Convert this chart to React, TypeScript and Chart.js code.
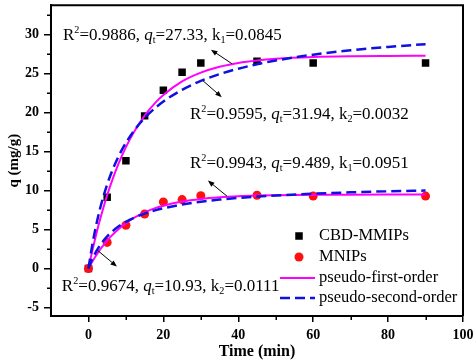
import { useEffect, useRef } from 'react';
import { Chart, registerables } from 'chart.js';
Chart.register(...registerables);

// ---- data ----
const expTimes = [0, 5, 10, 15, 20, 25, 30, 45, 60, 90];
const cbdValues = [0, 9.15, 13.85, 19.6, 22.9, 25.2, 26.4, 26.6, 26.4, 26.4];
const mnipValues = [0, 3.35, 5.55, 7.0, 8.55, 8.85, 9.35, 9.4, 9.3, 9.3];

const curveTimes = [0, 1, 2, 3, 4, 5, 6, 8, 10, 12, 15, 18, 20, 25, 30, 35, 40, 45, 50, 60, 70, 80, 90];
const cbdFirstOrder = [0, 2.21, 4.25, 6.12, 7.84, 9.42, 10.87, 13.43, 15.59, 17.41, 19.64, 21.36, 22.29, 24.03, 25.16, 25.91, 26.4, 26.72, 26.93, 27.16, 27.26, 27.3, 27.32];
const cbdSecondOrder = [0, 2.96, 5.42, 7.5, 9.27, 10.8, 12.14, 14.37, 16.14, 17.59, 19.33, 20.69, 21.45, 22.95, 24.09, 24.96, 25.66, 26.23, 26.71, 27.46, 28.02, 28.46, 28.81];
const mnipFirstOrder = [0, 0.86, 1.64, 2.36, 3.0, 3.59, 4.13, 5.05, 5.82, 6.46, 7.21, 7.78, 8.07, 8.61, 8.94, 9.15, 9.28, 9.36, 9.41, 9.46, 9.48, 9.49, 9.49];
const mnipSecondOrder = [0, 1.18, 2.13, 2.92, 3.57, 4.13, 4.6, 5.38, 5.99, 6.48, 7.05, 7.5, 7.74, 8.22, 8.57, 8.85, 9.06, 9.24, 9.38, 9.61, 9.78, 9.91, 10.01];

const xTickValues = [0, 10, 20, 30, 40, 50, 60, 70, 80, 90, 100];
const yTickValues = [-5, -2.5, 0, 2.5, 5, 7.5, 10, 12.5, 15, 17.5, 20, 22.5, 25, 27.5, 30, 32.5];

const legendLabels = ['CBD-MMIPs', 'MNIPs', 'pseudo-first-order', 'pseudo-second-order'];

type Seg = { t: string; sup?: boolean; sub?: boolean; it?: boolean };
const fitTexts: Seg[][] = [
  [{ t: 'R' }, { t: '2', sup: true }, { t: '=0.9886, ' }, { t: 'q', it: true }, { t: 't', sub: true }, { t: '=27.33, k' }, { t: '1', sub: true }, { t: '=0.0845' }],
  [{ t: 'R' }, { t: '2', sup: true }, { t: '=0.9595, ' }, { t: 'q', it: true }, { t: 't', sub: true }, { t: '=31.94, k' }, { t: '2', sub: true }, { t: '=0.0032' }],
  [{ t: 'R' }, { t: '2', sup: true }, { t: '=0.9943, ' }, { t: 'q', it: true }, { t: 't', sub: true }, { t: '=9.489, k' }, { t: '1', sub: true }, { t: '=0.0951' }],
  [{ t: 'R' }, { t: '2', sup: true }, { t: '=0.9674, ' }, { t: 'q', it: true }, { t: 't', sub: true }, { t: '=10.93, k' }, { t: '2', sub: true }, { t: '=0.0111' }],
];
// anchors (data coordinates): text left/baseline, arrow tail, arrow head
const fitAnchors = [
  { tx: -6.8, ty: 29.3, ax: 38.3, ay: 26.3, hx: 32.7, hy: 28.1 },
  { tx: 27.1, ty: 19.2, ax: 30.6, ay: 24.1, hx: 35.6, hy: 22.0 },
  { tx: 27.1, ty: 12.9, ax: 37.0, ay: 9.28, hx: 31.9, hy: 11.3 },
  { tx: -7.1, ty: -2.9, ax: 2.5, ay: 2.3, hx: 7.6, hy: 0.25 },
];

const SERIF = '"Liberation Serif", "Times New Roman", serif';
const MAGENTA = '#ff00ff';
const BLUE = '#1010e0';
const RED = '#ff1010';

function drawRich(ctx: CanvasRenderingContext2D, segs: Seg[], x: number, y: number, size: number) {
  let cx = x;
  ctx.textBaseline = 'alphabetic';
  ctx.textAlign = 'left';
  for (const s of segs) {
    const fs = s.sup || s.sub ? size * 0.6 : size;
    ctx.font = `${s.it ? 'italic ' : ''}${fs}px ${SERIF}`;
    const dy = s.sup ? -size * 0.42 : s.sub ? size * 0.18 : 0;
    ctx.fillText(s.t, cx, y + dy);
    cx += ctx.measureText(s.t).width;
  }
}

function drawArrow(ctx: CanvasRenderingContext2D, x1: number, y1: number, x2: number, y2: number) {
  const ang = Math.atan2(y2 - y1, x2 - x1);
  const L = 6.5, W = 2.6;
  ctx.beginPath();
  ctx.moveTo(x1, y1);
  ctx.lineTo(x2 - Math.cos(ang) * L * 0.8, y2 - Math.sin(ang) * L * 0.8);
  ctx.lineWidth = 1;
  ctx.strokeStyle = '#000';
  ctx.stroke();
  ctx.beginPath();
  ctx.moveTo(x2, y2);
  ctx.lineTo(x2 - Math.cos(ang) * L - Math.sin(ang) * W, y2 - Math.sin(ang) * L + Math.cos(ang) * W);
  ctx.lineTo(x2 - Math.cos(ang) * L + Math.sin(ang) * W, y2 - Math.sin(ang) * L - Math.cos(ang) * W);
  ctx.closePath();
  ctx.fillStyle = '#000';
  ctx.fill();
}

const overlayPlugin = {
  id: 'overlay',
  afterDatasetsDraw(chart: any) {
    const ctx: CanvasRenderingContext2D = chart.ctx;
    const { chartArea } = chart;
    const xs = chart.scales.x;
    const ys = chart.scales.y;
    ctx.save();
    // frame top/right
    ctx.strokeStyle = '#000';
    ctx.lineWidth = 2;
    ctx.beginPath();
    ctx.moveTo(chartArea.left, chartArea.top);
    ctx.lineTo(chartArea.right, chartArea.top);
    ctx.lineTo(chartArea.right, chartArea.bottom);
    ctx.stroke();
    // minor ticks (shorter)
    ctx.lineWidth = 1.5;
    ctx.beginPath();
    xTickValues.filter((v) => v % 20 !== 0).forEach((v) => {
      const px = Math.round(xs.getPixelForValue(v)) + 0.25;
      ctx.moveTo(px, chartArea.bottom);
      ctx.lineTo(px, chartArea.bottom + 4);
    });
    yTickValues.filter((v) => v % 5 !== 0).forEach((v) => {
      const py = Math.round(ys.getPixelForValue(v)) + 0.25;
      ctx.moveTo(chartArea.left, py);
      ctx.lineTo(chartArea.left - 4, py);
    });
    ctx.stroke();
    // fit annotations
    ctx.fillStyle = '#000';
    fitTexts.forEach((segs, i) => {
      const a = fitAnchors[i];
      drawRich(ctx, segs, xs.getPixelForValue(a.tx), ys.getPixelForValue(a.ty), 17);
      drawArrow(ctx, xs.getPixelForValue(a.ax), ys.getPixelForValue(a.ay), xs.getPixelForValue(a.hx), ys.getPixelForValue(a.hy));
    });
    // legend
    const sx = chartArea.right - 164;
    const rows = [chartArea.bottom - 80, chartArea.bottom - 59, chartArea.bottom - 38, chartArea.bottom - 18];
    ctx.fillStyle = '#000';
    ctx.fillRect(sx - 3.75, rows[0] - 3.75, 7.5, 7.5);
    ctx.fillStyle = RED;
    ctx.beginPath();
    ctx.arc(sx, rows[1], 4.5, 0, Math.PI * 2);
    ctx.fill();
    ctx.strokeStyle = MAGENTA;
    ctx.lineWidth = 2;
    ctx.beginPath();
    ctx.moveTo(sx - 19, rows[2]);
    ctx.lineTo(sx + 16, rows[2]);
    ctx.stroke();
    ctx.strokeStyle = BLUE;
    ctx.lineWidth = 2.5;
    ctx.setLineDash([10, 5]);
    ctx.beginPath();
    ctx.moveTo(sx - 19, rows[3]);
    ctx.lineTo(sx + 16, rows[3]);
    ctx.stroke();
    ctx.setLineDash([]);
    ctx.fillStyle = '#000';
    ctx.font = `16.5px ${SERIF}`;
    ctx.textBaseline = 'middle';
    ctx.textAlign = 'left';
    legendLabels.forEach((l, i) => ctx.fillText(l, sx + 20, rows[i]));
    ctx.restore();
  },
};

export default function App() {
  const ref = useRef<HTMLCanvasElement | null>(null);
  useEffect(() => {
    if (!ref.current) return;
    const pts = (xs: number[], ys: number[]) => xs.map((x, i) => ({ x, y: ys[i] }));
    const lineDs = (label: string, data: number[], color: string, dashed: boolean) => ({
      label,
      data: pts(curveTimes, data),
      showLine: true,
      borderColor: color,
      borderWidth: dashed ? 2.5 : 2,
      borderDash: dashed ? [10, 5] : [],
      pointRadius: 0,
      cubicInterpolationMode: 'monotone',
      fill: false,
    });
    const majorColor = (step: number) => (c: any) => (c.tick && Math.abs(c.tick.value % step) < 1e-9 ? '#000' : 'rgba(0,0,0,0)');
    const chart = new Chart(ref.current, {
      type: 'scatter',
      data: {
        datasets: [
          lineDs('pseudo-second-order CBD', cbdSecondOrder, BLUE, true),
          lineDs('pseudo-second-order MNIP', mnipSecondOrder, BLUE, true),
          lineDs('pseudo-first-order CBD', cbdFirstOrder, MAGENTA, false),
          lineDs('pseudo-first-order MNIP', mnipFirstOrder, MAGENTA, false),
          {
            label: 'MNIPs',
            data: pts(expTimes, mnipValues),
            pointStyle: 'circle',
            pointRadius: 4.5,
            backgroundColor: RED,
            borderWidth: 0,
          },
          {
            label: 'CBD-MMIPs',
            data: pts(expTimes, cbdValues),
            pointStyle: 'rect',
            pointRadius: 5.3,
            backgroundColor: '#000',
            borderWidth: 0,
          },
        ] as any,
      },
      options: {
        animation: false,
        responsive: false,
        layout: { padding: { left: 0, right: 11, top: 2, bottom: 0 } },
        plugins: { legend: { display: false }, tooltip: { enabled: false } },
        scales: {
          x: {
            type: 'linear',
            min: -10,
            max: 100,
            afterFit: (s: any) => { s.height = 46; s.paddingLeft = 0; s.paddingRight = 0; },
            afterBuildTicks: (s: any) => { s.ticks = xTickValues.map((v) => ({ value: v })); },
            grid: { drawOnChartArea: false, drawTicks: true, tickLength: 6, color: majorColor(20), lineWidth: 1.5 },
            border: { color: '#000', width: 2 },
            ticks: {
              color: '#000',
              padding: 5,
              maxRotation: 0,
              autoSkip: false,
              font: { family: SERIF, size: 14, weight: 'bold' },
              callback: (v: any) => (Number(v) % 20 === 0 ? String(v) : ''),
            },
            title: { display: true, text: 'Time (min)', color: '#000', padding: { top: 0, bottom: 1 }, font: { family: SERIF, size: 16, weight: 'bold' } },
          },
          y: {
            type: 'linear',
            min: -6.1,
            max: 33.8,
            afterFit: (s: any) => { s.width = 51; s.paddingTop = 0; s.paddingBottom = 0; },
            afterBuildTicks: (s: any) => { s.ticks = yTickValues.map((v) => ({ value: v })); },
            grid: { drawOnChartArea: false, drawTicks: true, tickLength: 7, color: majorColor(5), lineWidth: 1.5 },
            border: { color: '#000', width: 2 },
            ticks: {
              color: '#000',
              padding: 5,
              autoSkip: false,
              font: { family: SERIF, size: 14, weight: 'bold' },
              callback: (v: any) => (Number(v) % 5 === 0 ? String(v) : ''),
            },
            title: { display: true, text: 'q (mg/g)', color: '#000', padding: { top: 5, bottom: 0 }, font: { family: SERIF, size: 15, weight: 'bold' } },
          },
        },
      } as any,
      plugins: [overlayPlugin],
    });
    return () => chart.destroy();
  }, []);
  return (
    <div style={{ position: 'fixed', left: 0, top: 0, width: 474, height: 362, background: '#fff' }}>
      <canvas ref={ref} width={474} height={362} />
    </div>
  );
}
